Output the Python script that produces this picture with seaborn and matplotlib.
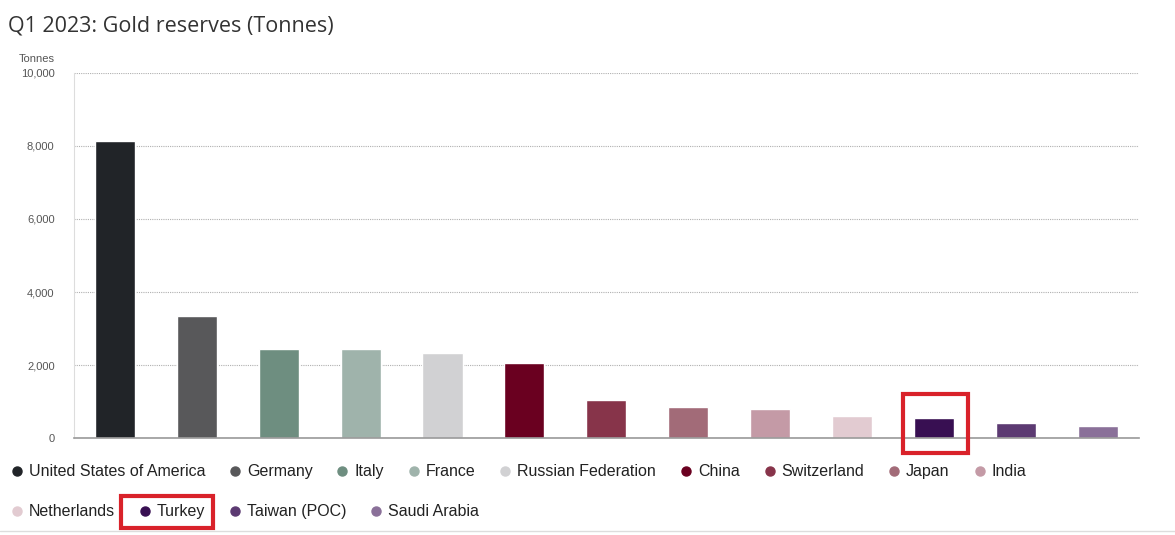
import matplotlib
matplotlib.use("Agg")
import matplotlib.pyplot as plt
import matplotlib.patches as mpatches
from matplotlib.lines import Line2D
from matplotlib.ticker import FuncFormatter
import seaborn as sns
import pandas as pd

# data
countries = ["United States of America", "Germany", "Italy", "France",
             "Russian Federation", "China", "Switzerland", "Japan", "India",
             "Netherlands", "Turkey", "Taiwan (POC)", "Saudi Arabia"]
tonnes = [8133, 3355, 2452, 2437, 2330, 2068, 1040, 846, 795, 612, 542, 423, 323]
colors = ["#212428", "#58585a", "#6e8e80", "#9fb3ab", "#d1d1d3", "#6a0020",
          "#87344a", "#a26b78", "#c49aa6", "#e2cbd1", "#380f52", "#5c3a72",
          "#8a7099"]

df = pd.DataFrame({"country": countries, "tonnes": tonnes})
palette = dict(zip(countries, colors))

sns.set_style("white")
plt.rcParams["font.family"] = ["Liberation Sans", "DejaVu Sans"]

fig = plt.figure(figsize=(11.75, 5.35), dpi=100)
ax = fig.add_axes([0.063, 0.181, 0.906, 0.683])

sns.barplot(data=df, x="country", y="tonnes", hue="country", palette=palette,
            width=0.49, legend=False, saturation=1, ax=ax)

ax.set_xlim(-0.5, len(countries) - 0.5)
ax.set_ylim(0, 10000)
ax.set_yticks(range(0, 10001, 2000))
ax.yaxis.set_major_formatter(FuncFormatter(lambda v, p: f"{int(v):,}"))
ax.tick_params(axis="y", labelsize=8, colors="#555555", length=0, pad=14)
ax.set_xticks([])
ax.set_xlabel("")
ax.set_ylabel("")
ax.grid(axis="y", linestyle=(0, (1, 1)), color="#b0b0b0", linewidth=0.8)
ax.set_axisbelow(True)
for s in ["top", "right"]:
    ax.spines[s].set_visible(False)
ax.spines["left"].set_color("#dddddd")
ax.spines["bottom"].set_color("#999999")
ax.spines["bottom"].set_linewidth(1.2)

fig.text(0.016, 0.89, "Tonnes", fontsize=8, color="#555555", ha="left", va="center")
fig.text(0.007, 0.951, "Q1 2023: Gold reserves (Tonnes)", fontsize=15.5,
         color="#333333", ha="left", va="center", family=["Open Sans", "DejaVu Sans"])

# red highlight around Turkey bar
ti = countries.index("Turkey")
ax.add_patch(mpatches.Rectangle((ti - 0.38, -410), 0.8, 1615, fill=False,
                                edgecolor="#d9222a", linewidth=3, clip_on=False, zorder=5))

# legend in two rows
def handles(names):
    return [Line2D([], [], marker="o", linestyle="", markersize=6.5,
                   markerfacecolor=palette[n], markeredgecolor=palette[n]) for n in names]

row1 = countries[:9]
row2 = countries[9:]
kw = dict(frameon=False, fontsize=11.5, handlelength=0.6, handletextpad=0.45,
          columnspacing=1.57, borderaxespad=0, borderpad=0)
leg1 = fig.legend(handles(row1), row1, ncol=len(row1), loc="center left",
                  bbox_to_anchor=(0.01, 0.118), **kw)
leg2 = fig.legend(handles(row2), row2, ncol=len(row2), loc="center left",
                  bbox_to_anchor=(0.01, 0.043), **kw)
for t in leg1.get_texts() + leg2.get_texts():
    t.set_color("#222222")

# red box around the Turkey legend entry, placed from the drawn legend
fig.canvas.draw()
r = fig.canvas.get_renderer()
tb = leg2.get_texts()[1].get_window_extent(r)
hb = leg2.legend_handles[1].get_window_extent(r)
x0 = hb.x0 - 14
x1 = tb.x1 + 8
yc = (tb.y0 + tb.y1) / 2
W, H = fig.bbox.width, fig.bbox.height
fig.patches.append(mpatches.Rectangle((x0 / W, (yc - 16) / H), (x1 - x0) / W, 32 / H,
                                      fill=False, edgecolor="#d9222a", linewidth=3,
                                      transform=fig.transFigure, figure=fig))
fig.add_artist(Line2D([0, 1], [0.007, 0.007], color="#dddddd", linewidth=1,
                      transform=fig.transFigure))

fig.savefig("out.png", dpi=100)
